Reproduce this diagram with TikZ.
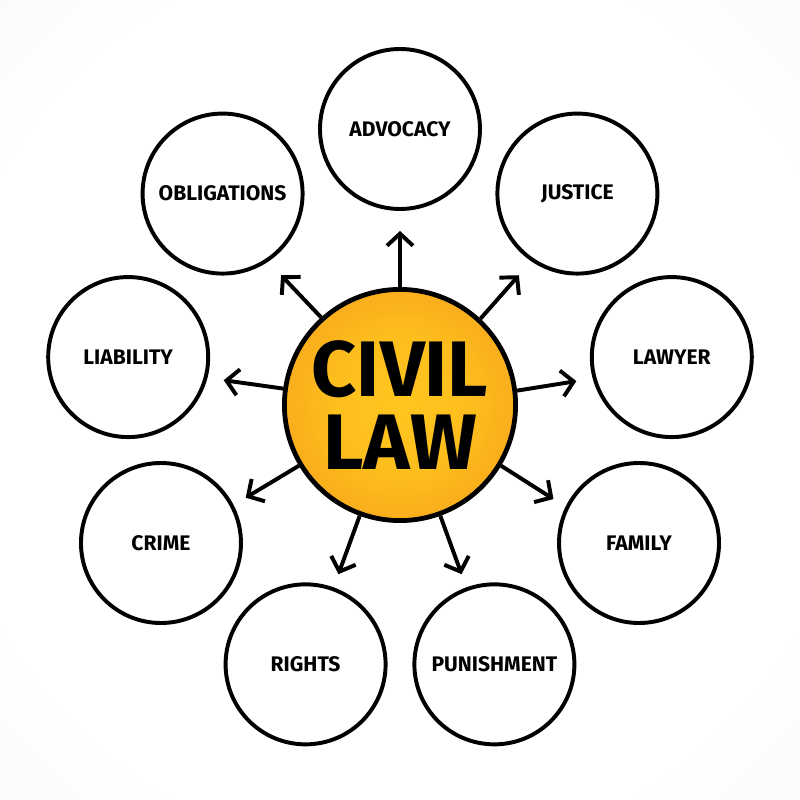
\documentclass[tikz,border=0pt]{standalone}
\usepackage{fontspec}
\setmainfont{Fira Sans}
\usepackage{tikz}
\usetikzlibrary{positioning}
\usetikzlibrary{arrows.meta}
\definecolor{civilin}{HTML}{FFC61E}
\definecolor{civilout}{HTML}{F39119}
\definecolor{paperedge}{HTML}{E4E4E4}
\pgfdeclareradialshading{civilglow}{\pgfpoint{0bp}{0bp}}{color(0bp)=(civilin); color(15bp)=(civilin!85!civilout); color(42bp)=(civilout); color(50bp)=(civilout)}
\pgfdeclareradialshading{paperglow}{\pgfpoint{0bp}{0bp}}{color(0bp)=(white); color(28bp)=(white); color(72bp)=(paperedge)}

\begin{document}
\begin{tikzpicture}[
		topic/.style={circle, draw, line width=2.8pt, minimum size=4cm, inner sep=0pt, font=\bfseries\fontsize{15}{18}\selectfont},
		spoke/.style={line width=2.8pt, -{Straight Barb[length=3mm,width=6.5mm,line width=2.8pt]}}]
		\useasboundingbox (-10,-9.875) rectangle (10,10.125);
		\shade[shading=paperglow] (-10,-9.875) rectangle (10,10.125);
		\node [circle, draw, line width=3.4pt, minimum size=5.78cm, shading=civilglow, align=center, font=\bfseries\fontsize{56}{52}\selectfont] at (0,0) (0Civil) {CIVIL\\LAW};
		\node [topic] at (90:6.9) (1Adv) {ADVOCACY};
		\node [topic] at (50:6.9) (1Jus) {JUSTICE};
		\node [topic] at (10:6.9) (1Law) {LAWYER};
		\node [topic] at (-30:6.9) (1Fam) {FAMILY};
		\node [topic] at (-70:6.9) (1Pun) {PUNISHMENT};
		\node [topic] at (-110:6.9) (1Rig) {RIGHTS};
		\node [topic] at (-150:6.9) (1Cri) {CRIME};
		\node [topic] at (170:6.9) (1Lia) {LIABILITY};
		\node [topic] at (130:6.9) (1Obl) {OBLIGATIONS};
		\coordinate (2Adv) at (90:4.35);
		\coordinate (2Jus) at (47.5:4.4);
		\coordinate (2Law) at (7.7:4.45);
		\coordinate (2Fam) at (-31.5:4.5);
		\coordinate (2Pun) at (-70:4.5);
		\coordinate (2Rig) at (-110:4.5);
		\coordinate (2Cri) at (-149:4.5);
		\coordinate (2Lia) at (172:4.45);
		\coordinate (2Obl) at (132.5:4.4);
		\draw [spoke] (0Civil.90) -- (2Adv);
		\draw [spoke] (0Civil.47.5) -- (2Jus);
		\draw [spoke] (0Civil.7.7) -- (2Law);
		\draw [spoke] (0Civil.-31.5) -- (2Fam);
		\draw [spoke] (0Civil.-70) -- (2Pun);
		\draw [spoke] (0Civil.-110) -- (2Rig);
		\draw [spoke] (0Civil.-149) -- (2Cri);
		\draw [spoke] (0Civil.172) -- (2Lia);
		\draw [spoke] (0Civil.132.5) -- (2Obl);
		\end{tikzpicture}
\end{document}
